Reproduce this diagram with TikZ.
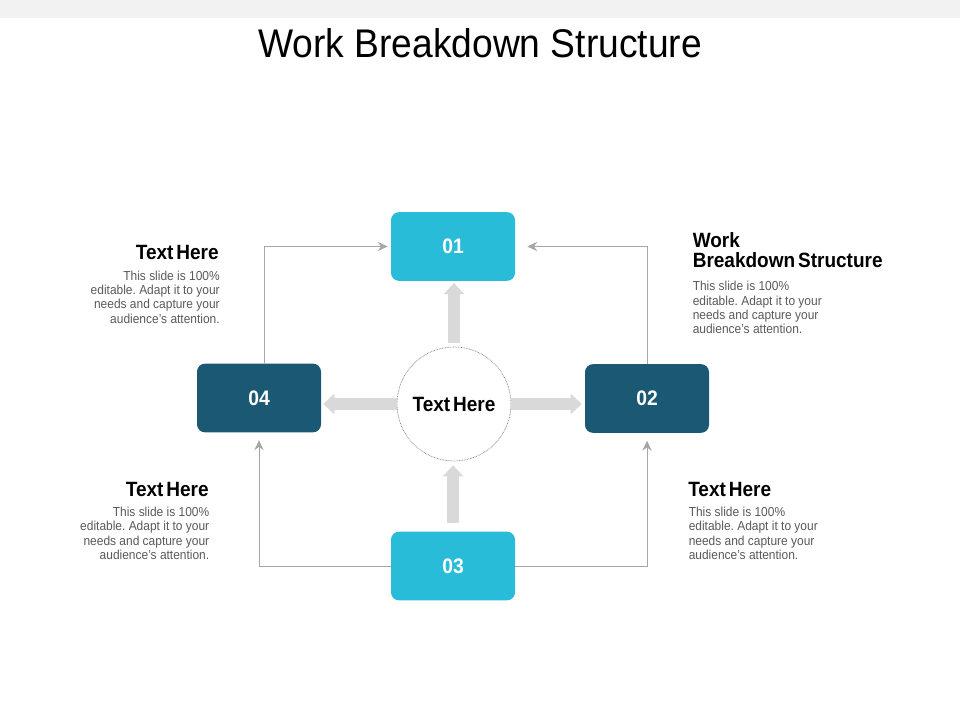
\documentclass[tikz,border=0pt]{standalone}
\usepackage{fontspec}
\setmainfont[FakeStretch=0.92]{Liberation Sans}
\newfontfamily\titlefont[FakeStretch=0.93]{Liberation Sans}
\usetikzlibrary{arrows.meta}
\definecolor{cyanbox}{HTML}{29BCD9}
\definecolor{darkbox}{HTML}{1A5873}
\definecolor{thickgray}{HTML}{D9D9D9}
\definecolor{thingray}{HTML}{A6A6A6}
\definecolor{bodygray}{HTML}{595959}
\definecolor{bandgray}{HTML}{F2F2F2}
\definecolor{ringgray}{HTML}{808080}
\frenchspacing
\newcommand{\headfont}{\fontsize{15.5pt}{15.3pt}\selectfont\bfseries\spaceskip=0.14em\relax}
\begin{document}
\begin{tikzpicture}[x=0.75pt,y=-0.75pt,
  numbox/.style={rounded corners=6pt, minimum width=93pt, minimum height=51.5pt,
    inner sep=0pt, text=white, font=\fontsize{15.75pt}{18pt}\selectfont\bfseries},
  hub/.style={circle, draw=ringgray, line width=0.5pt, dash pattern=on 0.6pt off 0.6pt,
    minimum size=85.5pt, inner sep=0pt, font=\headfont},
  fat/.style={draw=thickgray, line width=9pt,
    -{Triangle[length=8.25pt,width=15.5pt,line width=0pt]}},
  link/.style={draw=thingray, line width=0.75pt,
    -{Stealth[length=7.5pt,width=7pt,inset=2.5pt]}},
  head/.style={inner sep=0pt, font=\headfont},
  body/.style={inner sep=0pt, text=bodygray, font=\fontsize{9.75pt}{10.75pt}\selectfont\frenchspacing}]
\useasboundingbox (0,0) rectangle (960,720);
\fill[bandgray] (0,0) rectangle (960,18);
\node[anchor=base, inner sep=0pt, font=\titlefont\fontsize{30pt}{36pt}\selectfont] (title) at (480,57.7) {Work Breakdown Structure};

\node[numbox, fill=cyanbox] (b1) at (453,246.5) {01};
\node[numbox, fill=darkbox] (b2) at (647,398.5) {02};
\node[numbox, fill=cyanbox] (b3) at (453,566) {03};
\node[numbox, fill=darkbox] (b4) at (259,398) {04};
\node[hub] (c) at (454,404) {Text Here};

\draw[fat, shorten <=3pt, shorten >=1.5pt] (c.north) -- (c.north |- b1.south);
\draw[fat, shorten >=1.5pt] (c.west) -- (c.west -| b4.east);
\draw[fat, shorten >=2.25pt] (c.east) -- (c.east -| b2.west);
\draw[fat, shorten <=6pt, shorten >=3pt] (b3.north) -- (b3.north |- c.south);

\draw[link, shorten >=2.25pt] ([xshift=3.75pt]b4.north) |- (b1.west);
\draw[link, shorten >=9pt] (b2.north) |- (b1.east);
\draw[link, shorten >=5.7pt] (b3.west) -| (b4.south);
\draw[link, shorten >=5.7pt] (b3.east) -| (b2.south);

\node[head, anchor=base east] (h1) at (219,259.3) {Text Here};
\node[body, align=right, anchor=base east] (t1) at (220,323.3) {This slide is 100\%\\editable. Adapt it to your\\needs and capture your\\audience's attention.};
\node[head, align=left, anchor=base west] (h2) at (692.5,267.7) {Work\\Breakdown Structure};
\node[body, align=left, anchor=base west] (t2) at (692.5,333.8) {This slide is 100\%\\editable. Adapt it to your\\needs and capture your\\audience's attention.};
\node[head, anchor=base east] (h3) at (209,496.7) {Text Here};
\node[body, align=right, anchor=base east] (t3) at (209.5,559.5) {This slide is 100\%\\editable. Adapt it to your\\needs and capture your\\audience's attention.};
\node[head, anchor=base west] (h4) at (688,496.7) {Text Here};
\node[body, align=left, anchor=base west] (t4) at (688.5,559.5) {This slide is 100\%\\editable. Adapt it to your\\needs and capture your\\audience's attention.};
\end{tikzpicture}
\end{document}
